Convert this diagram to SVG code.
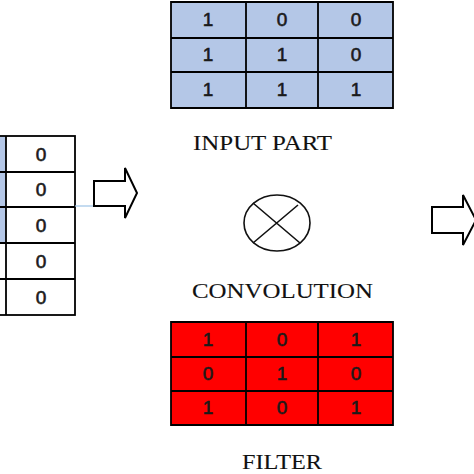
<svg xmlns="http://www.w3.org/2000/svg" width="474" height="474" viewBox="0 0 474 474">
<style>
.g{stroke:#000;stroke-width:1.8;fill:none}
.d{font-family:"Liberation Sans",Arial,sans-serif;font-size:19px;text-anchor:middle;fill:#1a1a1a;stroke:#1a1a1a;stroke-width:0.6}
.lbl{font-family:"Liberation Serif","Times New Roman",serif;font-size:22px;fill:#111;stroke:#111;stroke-width:0.12}
.arr{fill:#fff;stroke:#000;stroke-width:2}
</style>
<rect width="474" height="474" fill="#fff"/>
<g id="left-matrix">
<rect x="0" y="136" width="6" height="107" fill="#b4c7e7"/>
<rect x="-2" y="136" width="77" height="179" class="g"/>
<path class="g" d="M6 136V315M-2 172H75M-2 207H75M-2 243H75M-2 279H75"/>
<text class="d" x="41" y="161">0</text>
<text class="d" x="41" y="196">0</text>
<text class="d" x="41" y="232">0</text>
<text class="d" x="41" y="268">0</text>
<text class="d" x="41" y="304">0</text>
</g>
<g id="connectors">
<line x1="75" y1="206" x2="94" y2="206" stroke="#9dc3e6" stroke-width="1.2"/>
</g>
<g id="arrow-left">
<path class="arr" d="M94 181H125V168L137 193L125 218V206H94Z"/>
</g>
<g id="input-part">
<rect x="171" y="2" width="222" height="106" fill="#b4c7e7"/>
<path class="g" d="M171 2H393V108H171ZM246 2V108M318 2V108M171 38H393M171 72H393"/>
<text class="d" x="208" y="26">1</text>
<text class="d" x="282" y="26">0</text>
<text class="d" x="356" y="26">0</text>
<text class="d" x="208" y="61">1</text>
<text class="d" x="282" y="61">1</text>
<text class="d" x="356" y="61">0</text>
<text class="d" x="208" y="96">1</text>
<text class="d" x="282" y="96">1</text>
<text class="d" x="356" y="96">1</text>
<text class="lbl" x="193" y="150" textLength="139" lengthAdjust="spacingAndGlyphs">INPUT PART</text>
</g>
<g id="convolution">
<ellipse cx="277" cy="223" rx="33" ry="28" fill="none" stroke="#111" stroke-width="1.6"/>
<path d="M253 203L300 243M298 205L253 243" stroke="#111" stroke-width="1.6"/>
<text class="lbl" x="192" y="298" textLength="181" lengthAdjust="spacingAndGlyphs">CONVOLUTION</text>
</g>
<g id="filter">
<rect x="171" y="322" width="222" height="103" fill="#ff0000"/>
<path class="g" d="M171 322H393V425H171ZM246 322V425M318 322V425M171 357H393M171 391H393"/>
<text class="d" x="208" y="346">1</text>
<text class="d" x="282" y="346">0</text>
<text class="d" x="356" y="346">1</text>
<text class="d" x="208" y="380">0</text>
<text class="d" x="282" y="380">1</text>
<text class="d" x="356" y="380">0</text>
<text class="d" x="208" y="414">1</text>
<text class="d" x="282" y="414">0</text>
<text class="d" x="356" y="414">1</text>
<text class="lbl" x="242" y="469" textLength="80" lengthAdjust="spacingAndGlyphs">FILTER</text>
</g>
<g id="arrow-right">
<path class="arr" d="M432 207H463V195L476 220L463 245V233H432Z"/>
</g>
</svg>
